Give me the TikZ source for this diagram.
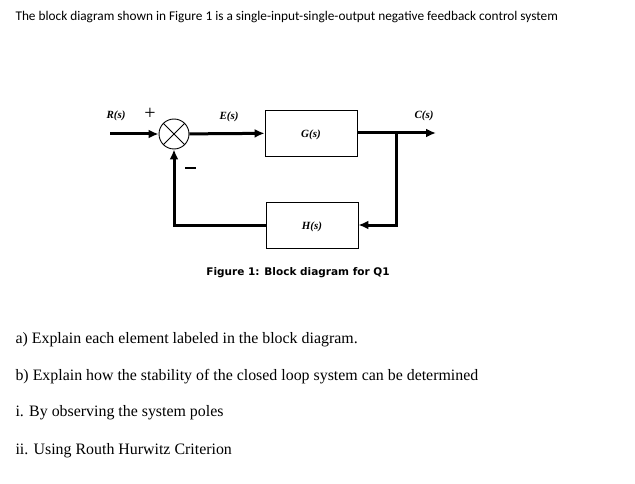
\documentclass[tikz,border=0pt]{standalone}
\usepackage{fontspec}
\usetikzlibrary{arrows.meta}
\setmainfont{Liberation Serif}
\newfontfamily\carfont{Carlito}
\newfontfamily\dvfont{DejaVu Sans}
\begin{document}
\begin{tikzpicture}[x=1pt,y=-1pt,
 blk/.style={draw,line width=0.9pt,minimum width=92pt,minimum height=46pt,inner sep=0},
 sig/.style={line width=3pt,-{Latex[length=10pt,width=9pt]}},
 lab/.style={font=\fontsize{11}{13}\selectfont\bfseries\itshape},
 q/.style={anchor=west,font=\fontsize{15.9}{18}\selectfont}]
\useasboundingbox (0,0) rectangle (635,484);
\node[anchor=west,font=\carfont\fontsize{13.3}{15}\selectfont] (t) at (12,17) {The block diagram shown in Figure 1 is a single-input-single-output negative feedback control system};
\node[draw,circle,line width=0.9pt,minimum size=30pt,inner sep=0] (s) at (174,134) {};
\draw[line width=0.9pt] (s.45)--(s.225) (s.135)--(s.315);
\node[blk] (g) at (311,133) {}; \node[lab] (gl) at (311,135) {G(s)};
\node[blk] (h) at (312,225) {}; \node[lab] (hl) at (312,227) {H(s)};
\coordinate (in) at (110,134);
\coordinate (out) at (436,133);
\coordinate (br) at (396,133);
\draw[sig] (in) -- (s);
\draw[sig] (s) -- (g);
\draw[sig] (g) -- (out);
\draw[sig] (br) |- (h);
\draw[sig] (h) -| (s);
\node[lab] (r) at (116,116) {R(s)};
\node[lab] (e) at (229,117) {E(s)};
\node[lab] (c) at (424,116) {C(s)};
\node[font=\fontsize{20}{22}\selectfont] (p) at (150,114) {+};
\draw[line width=1.2pt] (185,168) -- (196,168);
\node[font=\dvfont\bfseries\fontsize{10.5}{12}\selectfont] (cap) at (298,273) {Figure 1: Block diagram for Q1};
\node[q] (q1) at (12,340) {a) Explain each element labeled in the block diagram.};
\node[q] (q2) at (12,377) {b) Explain how the stability of the closed loop system can be determined};
\node[q] (q3) at (12,413) {i. By observing the system poles};
\node[q] (q4) at (12,451) {ii. Using Routh Hurwitz Criterion};
\end{tikzpicture}
\end{document}
